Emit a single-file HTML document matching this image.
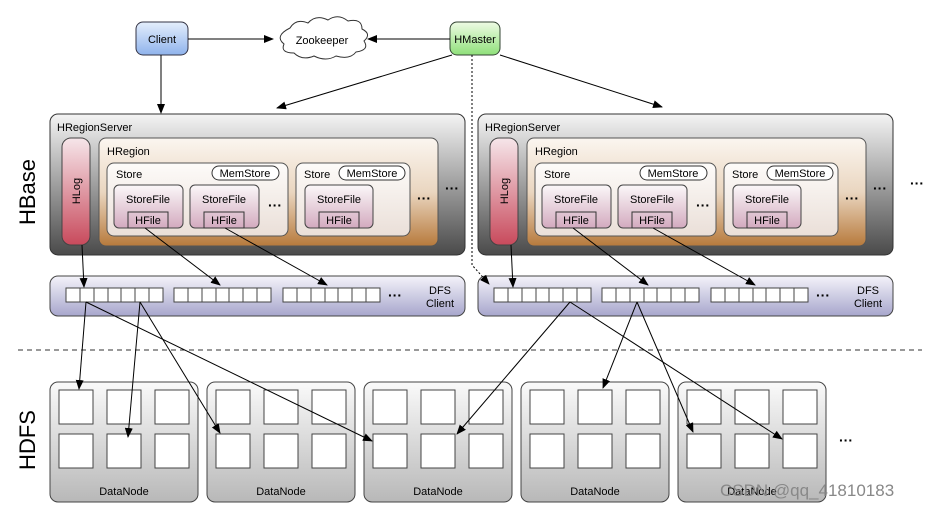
<!DOCTYPE html>
<html><head><meta charset="utf-8"><style>html,body{margin:0;padding:0;background:#fff}svg{display:block}text{font-family:"Liberation Sans",sans-serif}</style></head>
<body>
<svg width="932" height="508" viewBox="0 0 932 508" xmlns="http://www.w3.org/2000/svg">
<defs>
<linearGradient id="gS" x1="0" y1="0" x2="0" y2="1"><stop offset="0" stop-color="#f4f4f4"/><stop offset="1" stop-color="#4a4a4a"/></linearGradient>
<linearGradient id="gR" x1="0" y1="0" x2="0" y2="1"><stop offset="0" stop-color="#fbf6f0"/><stop offset="0.5" stop-color="#ead6c0"/><stop offset="1" stop-color="#b77a3c"/></linearGradient>
<linearGradient id="gSt" x1="0" y1="0" x2="0" y2="1"><stop offset="0" stop-color="#fdfbf9"/><stop offset="1" stop-color="#eadfd8"/></linearGradient>
<linearGradient id="gF" x1="0" y1="0" x2="0" y2="1"><stop offset="0" stop-color="#fbf8f9"/><stop offset="1" stop-color="#d3aabf"/></linearGradient>
<linearGradient id="gL" x1="0" y1="0" x2="0" y2="1"><stop offset="0" stop-color="#f6e6ea"/><stop offset="1" stop-color="#c84a5c"/></linearGradient>
<linearGradient id="gD" x1="0" y1="0" x2="0" y2="1"><stop offset="0" stop-color="#f4f3fa"/><stop offset="1" stop-color="#a7a6cc"/></linearGradient>
<linearGradient id="gN" x1="0" y1="0" x2="0" y2="1"><stop offset="0" stop-color="#fafafa"/><stop offset="1" stop-color="#b8b8b8"/></linearGradient>
<linearGradient id="gC" x1="0" y1="0" x2="0" y2="1"><stop offset="0" stop-color="#e4eefc"/><stop offset="1" stop-color="#8fb3ec"/></linearGradient>
<linearGradient id="gM" x1="0" y1="0" x2="0" y2="1"><stop offset="0" stop-color="#eefbe4"/><stop offset="1" stop-color="#8fe07a"/></linearGradient>
<marker id="ar" markerWidth="10" markerHeight="8" refX="9" refY="4" orient="auto" markerUnits="userSpaceOnUse"><path d="M0,0 L10,4 L0,8 z" fill="#000"/></marker>
<g id="srv">
<rect x="50" y="114" width="415" height="141" rx="8" fill="url(#gS)" stroke="#333"/>
<text x="57" y="131" font-size="11">HRegionServer</text>
<rect x="62" y="138" width="28" height="107" rx="9" fill="url(#gL)" stroke="#444"/>
<text transform="translate(80,191) rotate(-90)" font-size="11" text-anchor="middle">HLog</text>
<rect x="99" y="138" width="339" height="108" rx="7" fill="url(#gR)" stroke="#555"/>
<text x="107" y="155" font-size="11">HRegion</text>
<rect x="107" y="163" width="181" height="73" rx="7" fill="url(#gSt)" stroke="#555"/>
<text x="116" y="178" font-size="11">Store</text>
<rect x="212" y="166" width="67" height="14" rx="7" fill="#fff" stroke="#333"/>
<text x="245" y="177" font-size="11" text-anchor="middle">MemStore</text>
<rect x="114" y="185" width="69" height="43" rx="5" fill="url(#gF)" stroke="#444"/>
<text x="148" y="203" font-size="11" text-anchor="middle">StoreFile</text>
<rect x="128" y="212" width="40" height="16" fill="none" stroke="#333"/>
<text x="148" y="224" font-size="11" text-anchor="middle">HFile</text>
<rect x="190" y="185" width="69" height="43" rx="5" fill="url(#gF)" stroke="#444"/>
<text x="224" y="203" font-size="11" text-anchor="middle">StoreFile</text>
<rect x="204" y="212" width="40" height="16" fill="none" stroke="#333"/>
<text x="224" y="224" font-size="11" text-anchor="middle">HFile</text>
<text x="275" y="210" font-size="14" font-weight="bold" text-anchor="middle">···</text>
<rect x="296" y="163" width="114" height="73" rx="7" fill="url(#gSt)" stroke="#555"/>
<text x="304" y="178" font-size="11">Store</text>
<rect x="339" y="166" width="66" height="14" rx="7" fill="#fff" stroke="#333"/>
<text x="372" y="177" font-size="11" text-anchor="middle">MemStore</text>
<rect x="305" y="185" width="68" height="43" rx="5" fill="url(#gF)" stroke="#444"/>
<text x="339" y="203" font-size="11" text-anchor="middle">StoreFile</text>
<rect x="319" y="212" width="40" height="16" fill="none" stroke="#333"/>
<text x="339" y="224" font-size="11" text-anchor="middle">HFile</text>
<text x="424" y="203" font-size="14" font-weight="bold" text-anchor="middle">···</text>
<text x="452" y="193" font-size="14" font-weight="bold" text-anchor="middle">···</text>
<rect x="50" y="276" width="415" height="40" rx="8" fill="url(#gD)" stroke="#444"/>
<g fill="#fff" stroke="#444">
<rect x="66" y="288" width="97" height="14"/><rect x="174" y="288" width="97" height="14"/><rect x="283" y="288" width="97" height="14"/>
</g>
<g stroke="#444">
<path d="M80,288v14M94,288v14M108,288v14M121,288v14M135,288v14M149,288v14M188,288v14M202,288v14M216,288v14M229,288v14M243,288v14M257,288v14M297,288v14M311,288v14M325,288v14M338,288v14M352,288v14M366,288v14"/>
</g>
<text x="395" y="300" font-size="14" font-weight="bold" text-anchor="middle">···</text>
<text x="440" y="294" font-size="11" text-anchor="middle">DFS</text>
<text x="440" y="307" font-size="11" text-anchor="middle">Client</text>
</g>
<g id="dn">
<rect x="50" y="382" width="148" height="120" rx="8" fill="url(#gN)" stroke="#444"/>
<g fill="#fff" stroke="#444">
<rect x="59" y="390" width="34" height="34"/><rect x="107" y="390" width="34" height="34"/><rect x="155" y="390" width="34" height="34"/>
<rect x="59" y="434" width="34" height="34"/><rect x="107" y="434" width="34" height="34"/><rect x="155" y="434" width="34" height="34"/>
</g>
<text x="124" y="495" font-size="11" text-anchor="middle">DataNode</text>
</g>
</defs>

<use href="#srv"/>
<use href="#srv" transform="translate(428,0)"/>
<text x="917" y="188" font-size="14" font-weight="bold" text-anchor="middle">···</text>

<use href="#dn"/>
<use href="#dn" transform="translate(157,0)"/>
<use href="#dn" transform="translate(314,0)"/>
<use href="#dn" transform="translate(471,0)"/>
<use href="#dn" transform="translate(628,0)"/>
<text x="846" y="445" font-size="14" font-weight="bold" text-anchor="middle">···</text>

<text transform="translate(35,192) rotate(-90)" font-size="22" text-anchor="middle">HBase</text>
<text transform="translate(35,440) rotate(-90)" font-size="22" text-anchor="middle">HDFS</text>

<line x1="18" y1="350" x2="922" y2="350" stroke="#333" stroke-dasharray="5,4"/>

<rect x="136" y="22" width="52" height="33" rx="7" fill="url(#gC)" stroke="#334"/>
<text x="162" y="43" font-size="11" text-anchor="middle">Client</text>
<rect x="450" y="22" width="50" height="33" rx="7" fill="url(#gM)" stroke="#343"/>
<text x="475" y="43" font-size="11" text-anchor="middle">HMaster</text>
<path d="M290,28 q6,-10 18,-5 q8,-9 20,-3 q10,-7 20,1 q14,-3 14,8 q10,5 2,12 q6,9 -8,11 q-6,8 -20,4 q-10,6 -22,0 q-12,5 -20,-3 q-14,0 -10,-9 q-10,-8 6,-16z" fill="#fff" stroke="#333"/>
<text x="322" y="44" font-size="11" text-anchor="middle">Zookeeper</text>

<g stroke="#000" fill="none" marker-end="url(#ar)">
<line x1="188" y1="39" x2="273" y2="39"/>
<line x1="450" y1="39" x2="368" y2="39"/>
<line x1="161" y1="55" x2="161" y2="113"/>
<line x1="452" y1="55" x2="277" y2="108"/>
<line x1="500" y1="55" x2="662" y2="107"/>
<line x1="82" y1="245" x2="84" y2="287"/>
<line x1="145" y1="228" x2="220" y2="285"/>
<line x1="225" y1="228" x2="327" y2="285"/>
<line x1="511" y1="245" x2="513" y2="287"/>
<line x1="573" y1="228" x2="648" y2="285"/>
<line x1="653" y1="228" x2="755" y2="285"/>
<line x1="86" y1="302" x2="79" y2="389"/>
<line x1="86" y1="302" x2="372" y2="441"/>
<line x1="140" y1="302" x2="128" y2="437"/>
<line x1="140" y1="302" x2="220" y2="433"/>
<line x1="570" y1="302" x2="457" y2="434"/>
<line x1="570" y1="302" x2="782" y2="439"/>
<line x1="637" y1="302" x2="603" y2="388"/>
<line x1="637" y1="302" x2="693" y2="432"/>
<path d="M472,55 V265 L489,284" stroke-dasharray="2,2"/>
</g>
<text x="720" y="496" font-size="17" fill="#888">CSDN @qq_41810183</text>
</svg>
</body></html>
